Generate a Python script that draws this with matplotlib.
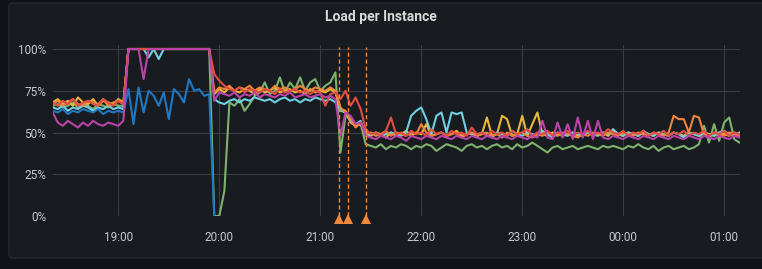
import numpy as np
import matplotlib
matplotlib.use("Agg")
import matplotlib.pyplot as plt
from matplotlib.patches import FancyBboxPatch
from matplotlib import transforms

plt.rcParams["font.family"] = ["Roboto", "DejaVu Sans"]

# sample times: minutes after 18:00, one sample every 3 minutes (18:21 .. 01:09)
minutes = np.arange(21, 430, 3)

tick_minutes = [60, 120, 180, 240, 300, 360, 420]
tick_labels = ["19:00", "20:00", "21:00", "22:00", "23:00", "00:00", "01:00"]
y_ticks = [0, 25, 50, 75, 100]
y_labels = ["0%", "25%", "50%", "75%", "100%"]

# annotation times (minutes after 18:00)
annotations = [191.3, 196.6, 207.3]

green = [66, 67, 65, 66, 68, 65, 67, 66, 64, 67, 66, 65, 67, 66, 66,
         100, 100, 100, 100, 100, 100, 100, 100, 100, 100, 100, 100, 100, 100, 100, 100, 100,
         0, 0, 15, 68, 66, 70, 63, 67, 72, 74, 80, 73, 75, 83, 74, 80, 76, 83, 75, 80, 82, 75, 78, 80, 86,
         38, 60, 58, 54, 55,
         43, 42, 41, 43, 40, 42, 41, 43, 42, 40, 42, 41, 43, 42, 39,
         41, 43, 42, 41, 39, 42, 43, 41, 42, 40, 42, 43, 41, 42, 40,
         43, 41, 42, 44, 42, 40, 38, 41, 42, 40, 41, 42, 40, 41, 42,
         41, 40, 42, 41, 42, 41, 40, 42, 41, 43, 41, 40, 42, 39, 41,
         42, 40, 41, 42, 40, 41, 43, 54, 44, 55, 45, 56, 59, 46, 44]

yellow = [68, 70, 67, 69, 66, 71, 68, 67, 70, 66, 69, 68, 67, 70, 68,
          100, 100, 100, 100, 100, 100, 100, 100, 100, 100, 100, 100, 100, 100, 100, 100, 100,
          73, 76, 74, 77, 75, 74, 76, 75, 73, 76, 74, 75, 77, 74, 75, 76, 74, 75, 73, 76, 74, 75, 74, 76, 74,
          64, 63, 56, 54, 55,
          49, 48, 50, 49, 47, 50, 48, 49, 51, 48, 50, 49, 55, 48, 49,
          50, 48, 49, 51, 48, 49, 50, 48, 49, 59, 48, 49, 60, 58, 48,
          49, 60, 48, 55, 62, 49, 48, 50, 49, 48, 49, 50, 48, 49, 50,
          48, 49, 50, 48, 51, 49, 48, 50, 49, 48, 50, 49, 48, 50, 49,
          48, 50, 49, 48, 50, 49, 48, 50, 49, 48, 50, 49, 48, 50, 49]

cyan = [65, 64, 66, 63, 65, 64, 66, 65, 63, 65, 64, 66, 64, 65, 64,
        100, 100, 100, 100, 95, 100, 94, 100, 100, 100, 100, 100, 100, 100, 100, 100, 100,
        70, 68, 67, 69, 70, 68, 70, 69, 71, 70, 69, 70, 68, 70, 71, 69, 70, 68, 70, 69, 71, 70, 69, 70, 68,
        63, 62, 57, 55, 57,
        48, 49, 50, 48, 49, 50, 49, 48, 50, 60, 63, 65, 58, 49, 60,
        62, 50, 62, 61, 62, 50, 49, 48, 50, 49, 47, 50, 49, 48, 51,
        49, 48, 50, 49, 48, 51, 49, 47, 50, 49, 48, 50, 49, 48, 50,
        49, 48, 50, 49, 52, 49, 48, 50, 49, 48, 51, 49, 48, 50, 49,
        48, 50, 49, 47, 50, 49, 48, 50, 49, 48, 50, 51, 49, 48, 50]

orange = [67, 69, 66, 68, 70, 67, 66, 69, 68, 67, 70, 66, 68, 69, 67,
          100, 100, 100, 100, 100, 100, 100, 100, 100, 100, 100, 100, 100, 100, 100, 100, 100,
          74, 77, 76, 78, 75, 77, 76, 78, 75, 77, 76, 75, 78, 76, 77, 75, 76, 78, 76, 75, 77, 76, 75, 77, 75,
          65, 62, 58, 53, 56,
          49, 50, 48, 49, 51, 48, 50, 49, 48, 50, 49, 55, 50, 48, 49,
          50, 48, 49, 50, 47, 49, 50, 48, 49, 50, 48, 49, 47, 50, 48,
          49, 50, 48, 47, 49, 48, 50, 49, 48, 50, 49, 48, 47, 49, 48,
          50, 49, 48, 50, 49, 48, 50, 49, 48, 50, 49, 48, 50, 49, 48,
          50, 60, 58, 58, 50, 60, 59, 49, 48, 50, 49, 48, 50, 49, 48]

red = [68, 66, 69, 67, 70, 66, 68, 69, 67, 66, 70, 68, 66, 69, 67,
       100, 100, 100, 100, 100, 100, 100, 100, 100, 100, 100, 100, 100, 100, 100, 100, 100,
       85, 81, 78, 76, 75, 77, 74, 76, 75, 74, 76, 75, 73, 76, 74, 75, 76, 74, 75, 73, 75, 74, 66, 73, 74,
       70, 75, 66, 71, 64,
       52, 49, 50, 48, 51, 59, 49, 50, 48, 51, 49, 50, 48, 52, 49,
       50, 48, 51, 49, 50, 48, 53, 49, 50, 48, 51, 49, 50, 48, 51,
       49, 50, 52, 48, 50, 49, 51, 48, 50, 49, 51, 48, 50, 49, 51,
       48, 50, 49, 52, 50, 49, 51, 48, 50, 49, 51, 48, 50, 49, 51,
       48, 50, 49, 51, 48, 50, 49, 51, 48, 50, 49, 51, 48, 50, 49]

blue = [63, 62, 64, 61, 63, 62, 64, 63, 62, 64, 61, 63, 62, 63, 62,
        76, 55, 77, 62, 75, 72, 66, 74, 58, 76, 73, 68, 82, 75, 76, 72, 73,
        0]

magenta = [62, 56, 54, 57, 55, 53, 56, 54, 57, 55, 54, 56, 55, 54, 57,
           100, 100, 100, 82, 100, 100, 100, 100, 100, 100, 100, 100, 100, 100, 100, 100, 100,
           69, 74, 73, 72, 74, 71, 73, 72, 74, 71, 73, 72, 71, 73, 72, 74, 71, 72, 73, 71, 72, 73, 71, 72, 70,
           48, 62, 60, 55, 56,
           48, 47, 46, 48, 47, 46, 48, 47, 45, 48, 47, 46, 48, 47, 46,
           48, 47, 46, 48, 47, 46, 48, 47, 46, 48, 47, 46, 48, 47, 46,
           48, 47, 46, 48, 47, 57, 47, 46, 56, 47, 55, 46, 59, 47, 57,
           46, 57, 47, 46, 48, 47, 46, 48, 47, 46, 48, 47, 46, 48, 47,
           46, 48, 47, 46, 48, 47, 46, 48, 47, 46, 48, 47, 46, 48, 47]

series = [
    (green, "#7EB26D"),
    (yellow, "#EAB839"),
    (cyan, "#6ED0E0"),
    (orange, "#EF843C"),
    (red, "#E24D42"),
    (blue, "#1F78C1"),
    (magenta, "#BA43A9"),
]

fig = plt.figure(figsize=(7.62, 2.69), dpi=100, facecolor="#111217")

panel = FancyBboxPatch((0.09, 0.11), 7.7, 2.55,
                       boxstyle="round,pad=0,rounding_size=0.03",
                       transform=fig.dpi_scale_trans,
                       facecolor="#181b1f", edgecolor="#25282d", linewidth=1,
                       zorder=-10)
fig.patches.append(panel)

fig.text(0.5, 1 - 17 / 269, "Load per Instance", ha="center", va="center",
         color="#d8d9da", fontsize=10, fontweight="bold")

ax = fig.add_axes([52.7 / 762, 53 / 269, 687.3 / 762, 171 / 269])
ax.set_facecolor("none")

for vals, col in series:
    ax.plot(minutes[:len(vals)], vals, color=col, lw=1.5, solid_joinstyle="round")

ax.set_xlim(21, 429.4)
ax.set_ylim(0, 102.4)

ax.set_xticks(tick_minutes)
ax.set_xticklabels(tick_labels)
ax.set_yticks(y_ticks)
ax.set_yticklabels(y_labels)
ax.tick_params(axis="both", length=0, colors="#c7c9cf", labelsize=8.5)
ax.tick_params(axis="x", pad=11)
ax.tick_params(axis="y", pad=4.8)
ax.grid(True, color="#3b3d42", lw=0.8)
ax.set_axisbelow(True)
for s in ax.spines.values():
    s.set_visible(False)

trans = transforms.blended_transform_factory(ax.transData, ax.transAxes)
for t in annotations:
    ax.axvline(t, ymin=0, ymax=0.99, color="#F2883A", lw=1, dashes=(3, 2))
    ax.plot([t], [-0.02], marker="^", markersize=6.5, color="#F2883A",
            transform=trans, clip_on=False, markeredgewidth=0)

fig.savefig("out.png", dpi=100, facecolor=fig.get_facecolor())
